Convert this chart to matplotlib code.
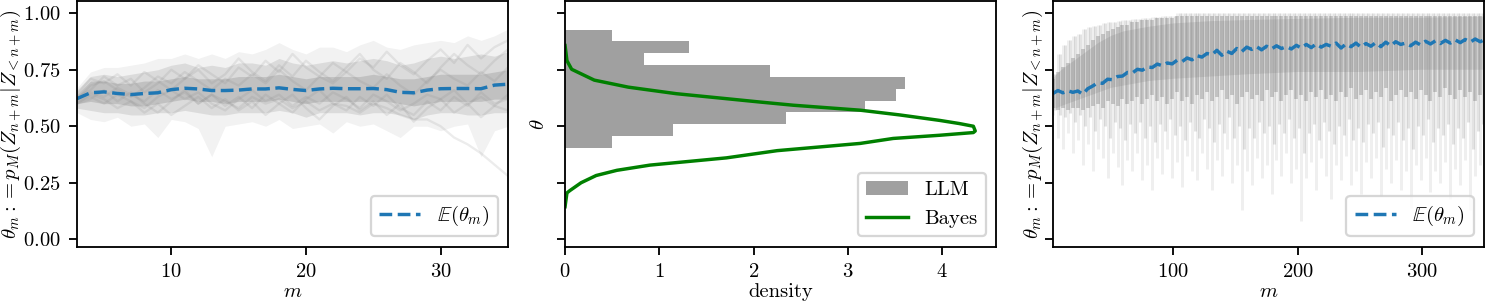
import numpy as np
import matplotlib
matplotlib.use('Agg')
import matplotlib.pyplot as plt

plt.rcParams.update({
    'font.family': 'serif',
    'font.serif': ['cmr10'],
    'mathtext.fontset': 'cm',
    'font.size': 9,
    'axes.formatter.use_mathtext': True,
})

# ---- panel 1: short horizon (m = 3..35) ----
m1 = list(range(3, 36))
mean1 = [0.622, 0.648, 0.652, 0.645, 0.640, 0.645, 0.648, 0.662, 0.668, 0.665, 0.658,
         0.658, 0.660, 0.665, 0.665, 0.670, 0.663, 0.658, 0.665, 0.668, 0.666, 0.666,
         0.667, 0.662, 0.650, 0.648, 0.660, 0.666, 0.667, 0.667, 0.666, 0.682, 0.686]
hi0 = [0.64, 0.70, 0.70, 0.69, 0.69, 0.70, 0.70, 0.71, 0.72, 0.71, 0.71, 0.71, 0.72, 0.72, 0.72, 0.73, 0.72,
       0.71, 0.72, 0.72, 0.72, 0.72, 0.73, 0.72, 0.71, 0.71, 0.72, 0.73, 0.73, 0.73, 0.73, 0.74, 0.75]
lo0 = [0.60, 0.61, 0.60, 0.60, 0.59, 0.59, 0.60, 0.61, 0.62, 0.61, 0.61, 0.60, 0.61, 0.61, 0.61, 0.62, 0.61,
       0.60, 0.61, 0.61, 0.61, 0.61, 0.61, 0.61, 0.60, 0.59, 0.60, 0.61, 0.61, 0.61, 0.61, 0.62, 0.62]
hi1 = [0.66, 0.72, 0.73, 0.72, 0.73, 0.74, 0.75, 0.77, 0.78, 0.76, 0.77, 0.76, 0.78, 0.78, 0.77, 0.80, 0.78,
       0.77, 0.78, 0.79, 0.78, 0.79, 0.80, 0.79, 0.77, 0.78, 0.80, 0.81, 0.80, 0.81, 0.82, 0.81, 0.83]
lo1 = [0.58, 0.57, 0.56, 0.56, 0.55, 0.55, 0.56, 0.56, 0.57, 0.56, 0.55, 0.55, 0.56, 0.56, 0.56, 0.57, 0.56,
       0.54, 0.56, 0.56, 0.56, 0.55, 0.56, 0.56, 0.55, 0.53, 0.55, 0.56, 0.56, 0.55, 0.55, 0.56, 0.56]
hi2 = [0.67, 0.74, 0.76, 0.76, 0.77, 0.78, 0.80, 0.80, 0.82, 0.80, 0.82, 0.80, 0.83, 0.82, 0.84, 0.87, 0.84,
       0.82, 0.85, 0.85, 0.83, 0.86, 0.88, 0.85, 0.84, 0.86, 0.87, 0.88, 0.87, 0.90, 0.88, 0.90, 0.93]
lo2 = [0.56, 0.53, 0.52, 0.54, 0.50, 0.51, 0.45, 0.53, 0.52, 0.49, 0.365, 0.50, 0.51, 0.52, 0.50, 0.53, 0.49,
       0.50, 0.51, 0.47, 0.52, 0.50, 0.51, 0.48, 0.45, 0.50, 0.50, 0.48, 0.50, 0.51, 0.365, 0.48, 0.50]
traj1 = [
    [0.62, 0.68, 0.70, 0.66, 0.63, 0.67, 0.72, 0.69, 0.74, 0.70, 0.66, 0.71, 0.68, 0.73, 0.69, 0.75, 0.70,
     0.66, 0.72, 0.69, 0.74, 0.70, 0.67, 0.73, 0.68, 0.64, 0.70, 0.75, 0.71, 0.68, 0.74, 0.70, 0.76],
    [0.61, 0.63, 0.60, 0.64, 0.61, 0.58, 0.63, 0.66, 0.62, 0.65, 0.60, 0.57, 0.62, 0.66, 0.61, 0.64, 0.59,
     0.63, 0.60, 0.65, 0.62, 0.58, 0.64, 0.61, 0.57, 0.60, 0.64, 0.62, 0.66, 0.60, 0.63, 0.59, 0.64],
    [0.63, 0.66, 0.72, 0.68, 0.71, 0.65, 0.69, 0.75, 0.71, 0.77, 0.73, 0.69, 0.76, 0.72, 0.79, 0.74, 0.82,
     0.76, 0.72, 0.78, 0.74, 0.80, 0.76, 0.83, 0.77, 0.73, 0.79, 0.84, 0.78, 0.86, 0.80, 0.85, 0.88],
    [0.60, 0.64, 0.62, 0.58, 0.61, 0.56, 0.60, 0.55, 0.59, 0.63, 0.58, 0.62, 0.57, 0.61, 0.55, 0.60, 0.64,
     0.58, 0.53, 0.59, 0.63, 0.57, 0.61, 0.55, 0.60, 0.52, 0.58, 0.62, 0.56, 0.60, 0.54, 0.59, 0.57],
    [0.62, 0.65, 0.63, 0.67, 0.64, 0.61, 0.66, 0.62, 0.65, 0.60, 0.64, 0.61, 0.58, 0.63, 0.60, 0.62, 0.58,
     0.61, 0.57, 0.60, 0.59, 0.56, 0.60, 0.58, 0.55, 0.53, 0.53, 0.50, 0.45, 0.42, 0.38, 0.33, 0.28],
    [0.64, 0.71, 0.69, 0.73, 0.68, 0.74, 0.70, 0.66, 0.71, 0.75, 0.69, 0.73, 0.80, 0.74, 0.70, 0.77, 0.72,
     0.79, 0.74, 0.70, 0.76, 0.82, 0.75, 0.71, 0.78, 0.74, 0.69, 0.76, 0.82, 0.77, 0.73, 0.79, 0.84],
    [0.60, 0.62, 0.66, 0.61, 0.65, 0.60, 0.56, 0.61, 0.66, 0.60, 0.64, 0.59, 0.63, 0.58, 0.64, 0.60, 0.56,
     0.62, 0.66, 0.60, 0.57, 0.63, 0.59, 0.64, 0.58, 0.55, 0.61, 0.57, 0.63, 0.59, 0.65, 0.60, 0.62],
]

# ---- panel 2: histogram of LLM vs Bayes posterior ----
hist_edges = [0.404, 0.456, 0.509, 0.561, 0.613, 0.665, 0.718, 0.770, 0.822, 0.875, 0.927]
hist_counts = [3, 7, 14, 19, 21, 22, 13, 5, 8, 3]
bayes_theta = [0.144, 0.160, 0.205, 0.215, 0.250, 0.282, 0.305, 0.328, 0.360, 0.392, 0.424, 0.446,
               0.460, 0.472, 0.479, 0.500, 0.512, 0.526, 0.550, 0.571, 0.593, 0.607, 0.622, 0.644,
               0.673, 0.704, 0.752, 0.790, 0.857]
bayes_dens = [0.0, 0.005, 0.02, 0.05, 0.17, 0.33, 0.55, 0.90, 1.71, 2.25, 3.13, 3.48,
              3.97, 4.33, 4.35, 4.33, 4.18, 3.97, 3.55, 3.13, 2.42, 2.07, 1.71, 1.18,
              0.67, 0.31, 0.07, 0.02, 0.0]

# ---- panel 3: long horizon (m = 3..350) ----
m3 = list(range(3, 352, 4))
m3b = list(range(5, 354, 4))
mean3 = [0.645, 0.658, 0.648, 0.657, 0.650, 0.656, 0.642, 0.666,
         0.678, 0.692, 0.690, 0.708, 0.706, 0.720, 0.722, 0.738,
         0.736, 0.752, 0.748, 0.762, 0.760, 0.775, 0.768, 0.780,
         0.776, 0.792, 0.786, 0.802, 0.794, 0.812, 0.806, 0.822,
         0.816, 0.836, 0.814, 0.832, 0.822, 0.844, 0.830, 0.850,
         0.840, 0.852, 0.838, 0.854, 0.842, 0.856, 0.844, 0.852,
         0.842, 0.858, 0.846, 0.862, 0.848, 0.864, 0.850, 0.862,
         0.854, 0.868, 0.846, 0.864, 0.852, 0.868, 0.850, 0.866,
         0.854, 0.870, 0.852, 0.872, 0.856, 0.874, 0.862, 0.868,
         0.856, 0.872, 0.860, 0.876, 0.864, 0.878, 0.866, 0.880,
         0.868, 0.882, 0.870, 0.884, 0.872, 0.886, 0.874, 0.884]
top_env3 = [0.73, 0.82, 0.86, 0.88, 0.90, 0.91, 0.93, 0.94,
            0.945, 0.95, 0.955, 0.96, 0.96, 0.965, 0.97, 0.97,
            0.975, 0.975, 0.98, 0.98, 0.985, 0.985, 0.99, 0.99,
            0.99] + [1.0] * 63
top_core3 = [0.71, 0.74, 0.76, 0.78, 0.80, 0.82, 0.84, 0.86,
             0.88, 0.90, 0.91, 0.92, 0.93, 0.94, 0.95, 0.95,
             0.96, 0.96, 0.97, 0.97, 0.97, 0.98, 0.98, 0.98,
             0.98] + [0.99] * 63
low_core3 = [0.58, 0.57, 0.58, 0.57, 0.58, 0.58, 0.57, 0.58,
             0.59, 0.60, 0.58, 0.61, 0.60, 0.59, 0.62, 0.60,
             0.61, 0.63, 0.60, 0.62, 0.64, 0.61, 0.63, 0.60,
             0.62, 0.65, 0.61, 0.63, 0.60, 0.64, 0.62, 0.65,
             0.61, 0.63, 0.66, 0.62, 0.64, 0.60, 0.63, 0.65,
             0.62, 0.64, 0.61, 0.66, 0.63, 0.65, 0.61, 0.64,
             0.66, 0.62, 0.64, 0.61, 0.65, 0.63, 0.66, 0.62,
             0.64, 0.61, 0.65, 0.63, 0.67, 0.62, 0.64, 0.66,
             0.62, 0.65, 0.63, 0.67, 0.61, 0.64, 0.66, 0.63,
             0.65, 0.62, 0.66, 0.64, 0.61, 0.65, 0.63, 0.67,
             0.64, 0.62, 0.66, 0.63, 0.65, 0.61, 0.64, 0.66]
low_faint3 = [0.55, 0.45, 0.40, 0.47, 0.38, 0.44, 0.33, 0.42,
              0.30, 0.40, 0.36, 0.27, 0.38, 0.32, 0.24, 0.35,
              0.30, 0.38, 0.26, 0.33, 0.22, 0.36, 0.29, 0.40,
              0.27, 0.34, 0.23, 0.37, 0.30, 0.26, 0.38, 0.31,
              0.22, 0.35, 0.28, 0.40, 0.25, 0.33, 0.13, 0.30,
              0.24, 0.36, 0.27, 0.33, 0.20, 0.35, 0.28, 0.38,
              0.25, 0.31, 0.08, 0.27, 0.34, 0.22, 0.36, 0.28,
              0.18, 0.33, 0.26, 0.37, 0.24, 0.30, 0.20, 0.34,
              0.27, 0.36, 0.19, 0.31, 0.25, 0.35, 0.22, 0.30,
              0.14, 0.33, 0.26, 0.36, 0.21, 0.30, 0.25, 0.34,
              0.18, 0.31, 0.24, 0.35, 0.13, 0.28, 0.33, 0.26]
low_mid3 = [0.57, 0.55, 0.54, 0.56, 0.52, 0.55, 0.50, 0.54,
            0.48, 0.53, 0.50, 0.45, 0.52, 0.49, 0.44, 0.51,
            0.47, 0.52, 0.45, 0.50, 0.43, 0.51, 0.48, 0.53,
            0.46, 0.50, 0.44, 0.52, 0.48, 0.45, 0.53, 0.49,
            0.43, 0.51, 0.47, 0.54, 0.45, 0.50, 0.40, 0.49,
            0.45, 0.52, 0.47, 0.50, 0.42, 0.51, 0.47, 0.53,
            0.45, 0.49, 0.38, 0.47, 0.51, 0.44, 0.52, 0.48,
            0.42, 0.50, 0.46, 0.53, 0.44, 0.49, 0.43, 0.51,
            0.47, 0.52, 0.41, 0.49, 0.46, 0.52, 0.44, 0.49,
            0.40, 0.50, 0.46, 0.53, 0.43, 0.49, 0.46, 0.51,
            0.42, 0.49, 0.45, 0.52, 0.40, 0.48, 0.51, 0.47]
mt = [3, 6, 10, 15, 20, 30, 40, 50, 60, 80, 100, 130, 160, 200, 250, 300, 350]
top_dark3 = [0.71, 0.73, 0.75, 0.77, 0.79, 0.83, 0.87, 0.90, 0.92, 0.94, 0.955, 0.965, 0.97, 0.975, 0.98, 0.98, 0.985]
low_dark3 = [0.58, 0.58, 0.59, 0.60, 0.61, 0.63, 0.65, 0.67, 0.68, 0.70, 0.71, 0.72, 0.73, 0.74, 0.74, 0.75, 0.75]

ylab = r'$\theta_m := p_M(Z_{n+m}|Z_{<n+m})$'
mean_lab = r'$\mathbb{E}(\theta_m)$'

fig = plt.figure(figsize=(1487 / 165, 304 / 165), dpi=165)
bot, hgt, wid = 0.1885, 0.8066, 0.2898
ax1 = fig.add_axes([0.0518, bot, wid, hgt])
ax2 = fig.add_axes([0.3800, bot, wid, hgt], sharey=ax1)
ax3 = fig.add_axes([0.7081, bot, wid, hgt], sharey=ax1)

# panel 1
ax1.fill_between(m1, lo2, hi2, color='gray', alpha=0.1, lw=0)
ax1.fill_between(m1, lo1, hi1, color='gray', alpha=0.2, lw=0)
ax1.fill_between(m1, lo0, hi0, color='gray', alpha=0.28, lw=0)
for tr in traj1:
    ax1.plot(m1, tr, color='gray', alpha=0.15, lw=1)
ax1.plot(m1, mean1, '--', color='tab:blue', label=mean_lab)
ax1.set_xlim(3, 35)
ax1.set_ylim(-0.033, 1.052)
ax1.set_yticks([0, 0.25, 0.5, 0.75, 1.0])
ax1.set_xticks([10, 20, 30])
ax1.set_xlabel('$m$', labelpad=1)
ax1.set_ylabel(ylab, labelpad=0)
ax1.legend(loc='lower right')

# panel 2
centers = [(a + b) / 2 for a, b in zip(hist_edges[:-1], hist_edges[1:])]
ax2.hist(centers, bins=hist_edges, weights=hist_counts, density=True,
         orientation='horizontal', color='gray', alpha=0.75, label='LLM')
ax2.plot(bayes_dens, bayes_theta, color='green', label='Bayes')
ax2.set_xlim(0, 4.57)
ax2.set_xticks([0, 1, 2, 3, 4])
ax2.set_xlabel('density', labelpad=1)
ax2.set_ylabel(r'$\theta$')
ax2.tick_params(labelleft=False)
ax2.legend(loc='lower right')

# panel 3
ax3.vlines(m3, low_faint3, top_env3, color='gray', alpha=0.12, lw=1.3)
ax3.vlines(m3b, low_mid3, top_env3, color='gray', alpha=0.22, lw=1.3)
ax3.vlines(m3, low_core3, top_core3, color='gray', alpha=0.4, lw=1.6)
ax3.fill(mt + mt[::-1], top_dark3 + low_dark3[::-1], color='gray', alpha=0.22, lw=0)
ax3.plot(m3, mean3, '--', color='tab:blue', label=mean_lab)
ax3.set_xlim(3, 350)
ax3.set_xticks([100, 200, 300])
ax3.set_xlabel('$m$', labelpad=1)
ax3.set_ylabel(ylab, labelpad=0)
ax3.tick_params(labelleft=False)
ax3.legend(loc='lower right')

fig.savefig('out.png', dpi=165)
